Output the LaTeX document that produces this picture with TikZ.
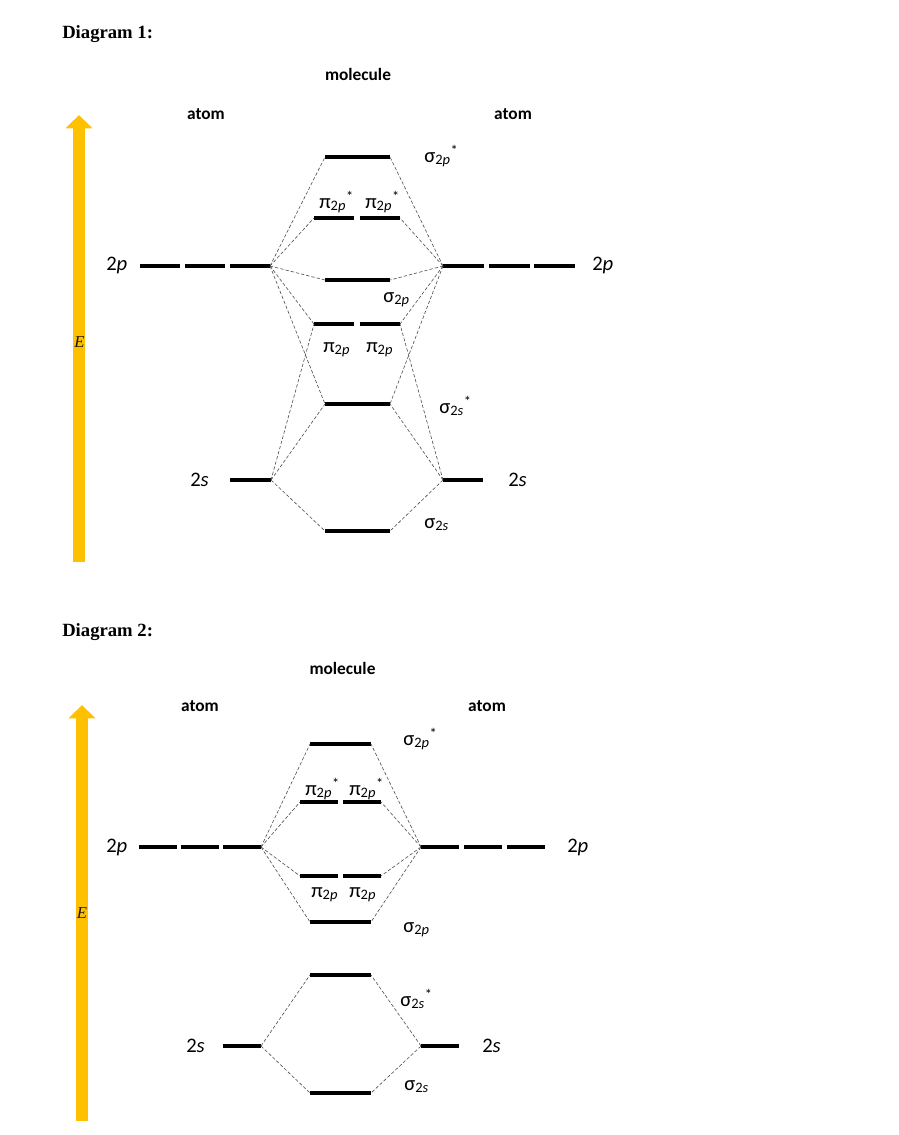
\documentclass[tikz,border=0pt]{standalone}
\usepackage{fontspec}
\setmainfont{Liberation Serif}
\newfontfamily\calibri{Carlito}
\usetikzlibrary{arrows.meta}
\definecolor{gold}{RGB}{255,192,0}
\newcommand{\orbital}[3]{#1\textsubscript{2\textit{#2}}#3}

\begin{document}
\begin{tikzpicture}[x=0.75pt, y=-0.75pt,
    bar/.style={line width=2.3pt},
    link/.style={black!70, line width=0.45pt, dash pattern=on 2.5pt off 1.5pt},
    lbl/.style={font=\calibri\fontsize{15.5}{18}\selectfont, inner sep=0pt, anchor=base west},
    head/.style={font=\calibri\bfseries\fontsize{13}{16}\selectfont, inner sep=0pt, anchor=base},
    title/.style={font=\bfseries\fontsize{14}{17}\selectfont, inner sep=0pt, anchor=base west},
    energy/.style={gold, line width=9pt, -{Triangle[width=19.5pt,length=10pt]}}]
    \useasboundingbox (0,0) rectangle (899,1135);

    % Diagram 1
    \node[title] (t1) at (62,38) {Diagram 1:};
    \node[head] (mol1) at (358,80.5) {molecule};
    \node[head] (atA1) at (206,119) {atom};
    \node[head] (atB1) at (513,119) {atom};
    \coordinate (e1a) at (79,562);
    \coordinate (e1b) at (79,115);
    \draw[energy] (e1a) -- (e1b);
    \node[font=\itshape\fontsize{12.5}{14}\selectfont, black!90] (E1) at (79.5,342) {E};

    \coordinate (p1L) at (270,266);  \coordinate (p1R) at (443,266);
    \coordinate (s1L) at (271,480);  \coordinate (s1R) at (443,480);
    \coordinate (sps1L) at (325,157); \coordinate (sps1R) at (390,157);
    \coordinate (pps1L) at (314,218); \coordinate (pps1R) at (400,218);
    \coordinate (sp1L) at (325,280);  \coordinate (sp1R) at (390,280);
    \coordinate (pp1L) at (314,324);  \coordinate (pp1R) at (400,324);
    \coordinate (sss1L) at (325,404); \coordinate (sss1R) at (390,404);
    \coordinate (ss1L) at (325,531);  \coordinate (ss1R) at (390,531);

    \foreach \x in {140,185,230} \draw[bar] (\x,266) -- ++(40,0);
    \foreach \x in {443,489,534} \draw[bar] (\x,266) -- ++(41,0);
    \draw[bar] (s1L) -- ++(-41,0);
    \draw[bar] (s1R) -- ++(40,0);
    \draw[bar] (sps1L) -- (sps1R);
    \draw[bar] (pps1L) -- ++(40,0);
    \draw[bar] (pps1R) -- ++(-40,0);
    \draw[bar] (sp1L) -- (sp1R);
    \draw[bar] (pp1L) -- ++(40,0);
    \draw[bar] (pp1R) -- ++(-40,0);
    \draw[bar] (sss1L) -- (sss1R);
    \draw[bar] (ss1L) -- (ss1R);

    \foreach \t in {sps1L,pps1L,sp1L,pp1L,sss1L} \draw[link] (p1L) -- (\t);
    \foreach \t in {sps1R,pps1R,sp1R,pp1R,sss1R} \draw[link] (p1R) -- (\t);
    \foreach \t in {sss1L,pp1L,ss1L} \draw[link] (s1L) -- (\t);
    \foreach \t in {sss1R,pp1R,ss1R} \draw[link] (s1R) -- (\t);

    \node[lbl] (l2p1) at (106,270) {2\textit{p}};
    \node[lbl] (r2p1) at (592,270) {2\textit{p}};
    \node[lbl] (l2s1) at (190,486) {2\textit{s}};
    \node[lbl] (r2s1) at (508,486) {2\textit{s}};
    \node[lbl] (tsps1) at (424,162) {\orbital{σ}{p}{\textsuperscript{*}}};
    \node[lbl] (tppsA1) at (319,208) {\orbital{π}{p}{\textsuperscript{*}}};
    \node[lbl] (tppsB1) at (365,208) {\orbital{π}{p}{\textsuperscript{*}}};
    \node[lbl] (tsp1) at (383,302) {\orbital{σ}{p}{}};
    \node[lbl] (tppA1) at (323,352) {\orbital{π}{p}{}};
    \node[lbl] (tppB1) at (366,352) {\orbital{π}{p}{}};
    \node[lbl] (tsss1) at (439,413) {\orbital{σ}{s}{\textsuperscript{*}}};
    \node[lbl] (tss1) at (424,528) {\orbital{σ}{s}{}};

    % Diagram 2
    \node[title] (t2) at (62,636) {Diagram 2:};
    \node[head] (mol2) at (342.5,674) {molecule};
    \node[head] (atA2) at (200,711) {atom};
    \node[head] (atB2) at (487,711) {atom};
    \coordinate (e2a) at (82,1121);
    \coordinate (e2b) at (82,705);
    \draw[energy] (e2a) -- (e2b);
    \node[font=\itshape\fontsize{12.5}{14}\selectfont, black!90] (E2) at (82,913) {E};

    \coordinate (p2L) at (261,847);  \coordinate (p2R) at (421,847);
    \coordinate (s2L) at (261,1046); \coordinate (s2R) at (421,1046);
    \coordinate (sps2L) at (310,744); \coordinate (sps2R) at (371,744);
    \coordinate (pps2L) at (300,802); \coordinate (pps2R) at (381,802);
    \coordinate (pp2L) at (300,876);  \coordinate (pp2R) at (381,876);
    \coordinate (sp2L) at (310,922);  \coordinate (sp2R) at (371,922);
    \coordinate (sss2L) at (310,975); \coordinate (sss2R) at (371,975);
    \coordinate (ss2L) at (310,1093); \coordinate (ss2R) at (371,1093);

    \foreach \x in {139,181,223} \draw[bar] (\x,847) -- ++(38,0);
    \foreach \x in {421,464,507} \draw[bar] (\x,847) -- ++(38,0);
    \draw[bar] (s2L) -- ++(-38,0);
    \draw[bar] (s2R) -- ++(38,0);
    \draw[bar] (sps2L) -- (sps2R);
    \draw[bar] (pps2L) -- ++(38,0);
    \draw[bar] (pps2R) -- ++(-38,0);
    \draw[bar] (pp2L) -- ++(38,0);
    \draw[bar] (pp2R) -- ++(-38,0);
    \draw[bar] (sp2L) -- (sp2R);
    \draw[bar] (sss2L) -- (sss2R);
    \draw[bar] (ss2L) -- (ss2R);

    \foreach \t in {sps2L,pps2L,pp2L,sp2L} \draw[link] (p2L) -- (\t);
    \foreach \t in {sps2R,pps2R,pp2R,sp2R} \draw[link] (p2R) -- (\t);
    \foreach \t in {sss2L,ss2L} \draw[link] (s2L) -- (\t);
    \foreach \t in {sss2R,ss2R} \draw[link] (s2R) -- (\t);

    \node[lbl] (l2p2) at (106,852) {2\textit{p}};
    \node[lbl] (r2p2) at (567,852) {2\textit{p}};
    \node[lbl] (l2s2) at (186,1052) {2\textit{s}};
    \node[lbl] (r2s2) at (482,1052) {2\textit{s}};
    \node[lbl] (tsps2) at (403,745) {\orbital{σ}{p}{\textsuperscript{*}}};
    \node[lbl] (tppsA2) at (305,795) {\orbital{π}{p}{\textsuperscript{*}}};
    \node[lbl] (tppsB2) at (349,795) {\orbital{π}{p}{\textsuperscript{*}}};
    \node[lbl] (tppA2) at (311,897) {\orbital{π}{p}{}};
    \node[lbl] (tppB2) at (349,897) {\orbital{π}{p}{}};
    \node[lbl] (tsp2) at (403,932) {\orbital{σ}{p}{}};
    \node[lbl] (tsss2) at (400,1006) {\orbital{σ}{s}{\textsuperscript{*}}};
    \node[lbl] (tss2) at (404,1090) {\orbital{σ}{s}{}};
\end{tikzpicture}
\end{document}
